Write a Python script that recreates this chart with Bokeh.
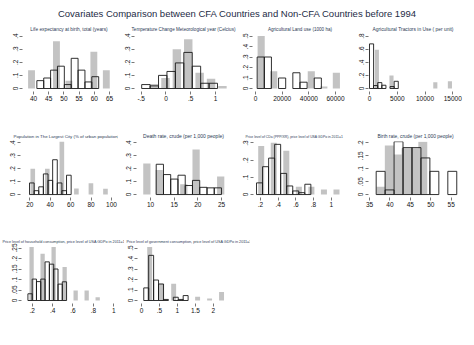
from bokeh.plotting import figure
from bokeh.layouts import column, row
from bokeh.models import Range1d, FixedTicker, CustomJSTickFormatter
from bokeh.core.properties import value
from bokeh.embed import file_html
from bokeh.resources import INLINE

FONT = "Liberation Sans"
GRAY = "#c3c3c3"
EDGE = "#1a1a1a"
TITLE_COLOR = "#2b3a55"

MAIN_TITLE = "Covariates Comparison between CFA Countries and Non-CFA Countries before 1994"

# ---- data: bin midpoints and fractions (gray = filled bars, open = outlined bars) ----
life_title = "Life expectancy at birth, total (years)"
life_gray_mid = [39.35, 47.55, 51.65, 59.85, 63.95]
life_gray_frac = [0.14, 0.36, 0.06, 0.28, 0.14]
life_open_mid = [42.23, 44.49, 46.75, 49.01, 51.27, 53.53, 55.79, 58.05, 60.31]
life_open_frac = [0.06, 0.08, 0.14, 0.17, 0.03, 0.23, 0.14, 0.05, 0.09]
life_binw = 2.26
life_xticks = [40, 45, 50, 55, 60, 65]
life_yticks = [0, 0.1, 0.2, 0.3, 0.4]

temp_title = "Temperature Change Meteorological year (Celcius)"
temp_gray_mid = [-0.24, -0.01, 0.22, 0.45, 0.68, 0.91, 1.14]
temp_gray_frac = [0.035, 0.08, 0.30, 0.375, 0.12, 0.075, 0.02]
temp_open_mid = [-0.405, -0.235, -0.065, 0.105, 0.275, 0.445, 0.615, 0.785, 0.955]
temp_open_frac = [0.03, 0.02, 0.10, 0.13, 0.195, 0.275, 0.17, 0.04, 0.04]
temp_binw = 0.17
temp_xticks = [-0.5, 0, 0.5, 1]
temp_yticks = [0, 0.1, 0.2, 0.3, 0.4]

land_title = "Agricultural Land use (1000 ha)"
land_gray_mid = [4250, 13650, 41850, 51250, 60650]
land_gray_frac = [0.50, 0.165, 0.165, 0.02, 0.15]
land_open_mid = [3925, 9275, 19975, 30675, 36025, 46725]
land_open_frac = [0.30, 0.30, 0.10, 0.15, 0.06, 0.10]
land_binw = 5350
land_xticks = [0, 20000, 40000, 60000]
land_yticks = [0, 0.1, 0.2, 0.3, 0.4, 0.5]

trac_title = "Agricultural Tractors in Use ( per unit)"
trac_gray_mid = [1330, 3960, 11850, 14480]
trac_gray_frac = [0.59, 0.20, 0.095, 0.11]
trac_open_mid = [370, 1110, 1850, 2590, 4070, 4810]
trac_open_frac = [0.68, 0.045, 0.09, 0.05, 0.03, 0.11]
trac_binw = 740
trac_xticks = [0, 5000, 10000, 15000]
trac_yticks = [0, 0.2, 0.4, 0.6, 0.8]

pop_title = "Population in The Largest City (% of urban population)"
pop_gray_mid = [22.9, 37.14, 51.38, 65.62, 79.86, 94.1]
pop_gray_frac = [0.20, 0.20, 0.415, 0.047, 0.088, 0.045]
pop_open_mid = [21.97, 26.5, 31.03, 35.57, 40.1, 44.63, 49.17, 53.7, 58.23]
pop_open_frac = [0.09, 0.03, 0.06, 0.16, 0.11, 0.27, 0.09, 0.03, 0.15]
pop_binw = 4.53
pop_xticks = [20, 40, 60, 80, 100]
pop_yticks = [0, 0.1, 0.2, 0.3, 0.4]

death_title = "Death rate, crude (per 1,000 people)"
death_gray_mid = [9.23, 11.83, 17.03, 19.63, 24.83]
death_gray_frac = [0.24, 0.19, 0.08, 0.35, 0.14]
death_open_mid = [11.97, 13.5, 15.03, 16.57, 18.1, 19.63, 21.17, 22.7, 24.23]
death_open_frac = [0.235, 0.155, 0.12, 0.15, 0.07, 0.11, 0.056, 0.052, 0.052]
death_binw = 1.53
death_xticks = [10, 15, 20, 25]
death_yticks = [0, 0.1, 0.2, 0.3, 0.4]

pda_title = "Price level of CDa (PPP/XR), price level of USA GDPo in 2011=1"
pda_gray_mid = [0.208, 0.35, 0.492, 0.634, 0.776, 0.918, 1.06]
pda_gray_frac = [0.283, 0.302, 0.255, 0.045, 0.045, 0.03, 0.03]
pda_open_mid = [0.189, 0.257, 0.326, 0.394, 0.462, 0.531, 0.599, 0.667, 0.736]
pda_open_frac = [0.068, 0.162, 0.212, 0.292, 0.123, 0.05, 0.021, 0.011, 0.06]
pda_binw = 0.068
pda_xticks = [0.2, 0.4, 0.6, 0.8, 1]
pda_yticks = [0, 0.1, 0.2, 0.3]

birth_title = "Birth rate, crude (per 1,000 people)"
birth_gray_mid = [37.8, 39.85, 41.9, 43.95, 46.0, 48.05]
birth_gray_frac = [0.03, 0.19, 0.155, 0.18, 0.18, 0.205]
birth_open_mid = [37.73, 39.92, 42.11, 44.31, 46.5, 48.69, 50.88, 55.27]
birth_open_frac = [0.09, 0.018, 0.205, 0.182, 0.182, 0.142, 0.09, 0.09]
birth_binw = 2.19
birth_xticks = [35, 40, 45, 50, 55]
birth_yticks = [0, 0.05, 0.1, 0.15, 0.2]

phh_title = "Price level of household consumption,  price level of USA GDPo in 2011=1"
phh_gray_mid = [0.194, 0.302, 0.41, 0.518, 0.626, 0.734, 0.842]
phh_gray_frac = [0.255, 0.223, 0.255, 0.159, 0.048, 0.048, 0.016]
phh_open_mid = [0.179, 0.221, 0.263, 0.305, 0.347, 0.39, 0.432, 0.474, 0.516]
phh_open_frac = [0.032, 0.102, 0.09, 0.102, 0.184, 0.173, 0.15, 0.078, 0.089]
phh_binw = 0.042
phh_xticks = [0.2, 0.4, 0.6, 0.8, 1]
phh_yticks = [0, 0.05, 0.1, 0.15, 0.2, 0.25]

pgov_title = "Price level of government consumption,  price level of USA GDPo in 2011=1"
pgov_gray_mid = [0.229, 0.562, 0.895, 1.561, 1.894, 2.227]
pgov_gray_frac = [0.51, 0.16, 0.16, 0.035, 0.02, 0.08]
pgov_open_mid = [0.1325, 0.2695, 0.4065, 0.5435, 0.6805, 0.9545, 1.0915, 1.2285]
pgov_open_frac = [0.12, 0.43, 0.195, 0.157, 0.01, 0.031, 0.01, 0.047]
pgov_binw = 0.137
pgov_xticks = [0, 0.5, 1, 1.5, 2]
pgov_yticks = [0, 0.1, 0.2, 0.3, 0.4, 0.5]

FMT_CODE = """
const v = Math.round(tick * 100000) / 100000;
let s = String(v);
if (s.startsWith("0.")) { s = s.slice(1); }
else if (s.startsWith("-0.")) { s = "-" + s.slice(2); }
return s;
"""

ROW_H = 106
TOP_B = 12
BOT_B = 37


def panel(title, tsize, gmid, gfrac, omid, ofrac, binw, xticks, yticks,
          xr, fig_w, bl, br, talign="center", toffset=0):
    T = yticks[-1]
    y0 = -3.0 * T / 52.5
    y1 = T + 1.5 * T / 52.5
    p = figure(width=fig_w, height=ROW_H, x_range=Range1d(*xr),
               y_range=Range1d(y0, y1), toolbar_location=None,
               output_backend="svg", title=title,
               min_border_left=bl, min_border_right=br,
               min_border_top=TOP_B, min_border_bottom=BOT_B)
    p.vbar(x=gmid, top=gfrac, bottom=0, width=binw,
           fill_color=GRAY, line_color=None)
    p.vbar(x=omid, top=ofrac, bottom=0, width=binw,
           fill_alpha=0, line_color=EDGE, line_width=0.9)
    p.title.text_font = FONT
    p.title.text_font_size = f"{tsize}px"
    p.title.text_font_style = "normal"
    p.title.text_color = TITLE_COLOR
    p.title.align = talign
    p.title.offset = toffset
    p.title.standoff = 5
    p.xaxis.ticker = FixedTicker(ticks=xticks)
    p.yaxis.ticker = FixedTicker(ticks=yticks)
    for ax in (p.xaxis[0], p.yaxis[0]):
        ax.axis_line_color = None
        ax.major_tick_in = 0
        ax.major_tick_out = 3
        ax.minor_tick_line_color = None
        ax.major_tick_line_color = "#555555"
        ax.major_tick_line_width = 0.8
        ax.major_label_text_font = FONT
        ax.major_label_text_font_size = "6.5px"
        ax.major_label_text_color = "#111111"
        ax.formatter = CustomJSTickFormatter(code=FMT_CODE)
    p.yaxis.major_label_orientation = "vertical"
    p.yaxis.major_label_standoff = 2
    p.xaxis.major_label_standoff = 1
    p.grid.visible = False
    p.outline_line_color = None
    p.background_fill_color = "white"
    p.border_fill_color = "white"
    return p


p1 = panel(life_title, 4.8, life_gray_mid, life_gray_frac, life_open_mid, life_open_frac,
           life_binw, life_xticks, life_yticks, (36.38, 66.97), 118, 22, 3)
p2 = panel(temp_title, 4.6, temp_gray_mid, temp_gray_frac, temp_open_mid, temp_open_frac,
           temp_binw, temp_xticks, temp_yticks, (-0.635, 1.343), 119, 16, 5)
p3 = panel(land_title, 4.6, land_gray_mid, land_gray_frac, land_open_mid, land_open_frac,
           land_binw, land_xticks, land_yticks, (-2250, 69000), 118, 15, 8)
p4 = panel(trac_title, 4.9, trac_gray_mid, trac_gray_frac, trac_open_mid, trac_open_frac,
           trac_binw, trac_xticks, trac_yticks, (-180, 15846), 119, 13, 17)
p5 = panel(pop_title, 4.4, pop_gray_mid, pop_gray_frac, pop_open_mid, pop_open_frac,
           pop_binw, pop_xticks, pop_yticks, (10.89, 102.94), 118, 20, 4,
           "left", -7)
p6 = panel(death_title, 5.0, death_gray_mid, death_gray_frac, death_open_mid, death_open_frac,
           death_binw, death_xticks, death_yticks, (7.04, 26.9), 119, 18, 7)
p7 = panel(pda_title, 3.4, pda_gray_mid, pda_gray_frac, pda_open_mid, pda_open_frac,
           pda_binw, pda_xticks, pda_yticks, (0.1208, 1.162), 118, 16, 10,
           "left", -8)
p8 = panel(birth_title, 4.9, birth_gray_mid, birth_gray_frac, birth_open_mid, birth_open_frac,
           birth_binw, birth_xticks, birth_yticks, (34.755, 57.77), 119, 13, 12)
p9 = panel(phh_title, 3.75, phh_gray_mid, phh_gray_frac, phh_open_mid, phh_open_frac,
           phh_binw, phh_xticks, phh_yticks, (0.0951, 1.0265), 124, 21, 8,
           "left", -19)
p10 = panel(pgov_title, 3.75, pgov_gray_mid, pgov_gray_frac, pgov_open_mid, pgov_open_frac,
            pgov_binw, pgov_xticks, pgov_yticks, (-0.110, 2.531), 126, 12, 18,
            "left", -11)

t = figure(width=474, height=22, x_range=Range1d(0, 474), y_range=Range1d(0, 22),
           toolbar_location=None, output_backend="svg", min_border=0,
           x_axis_location=None, y_axis_location=None)
t.outline_line_color = None
t.grid.visible = False
t.text(x=[237], y=[9], text=[MAIN_TITLE], text_align="center", text_baseline="middle",
       text_font=value(FONT), text_font_size="9.5px", text_color="#1d2b45")

layout = column(t, row(p1, p2, p3, p4), row(p5, p6, p7, p8), row(p9, p10))

open("out.html", "w").write(file_html(layout, INLINE))
